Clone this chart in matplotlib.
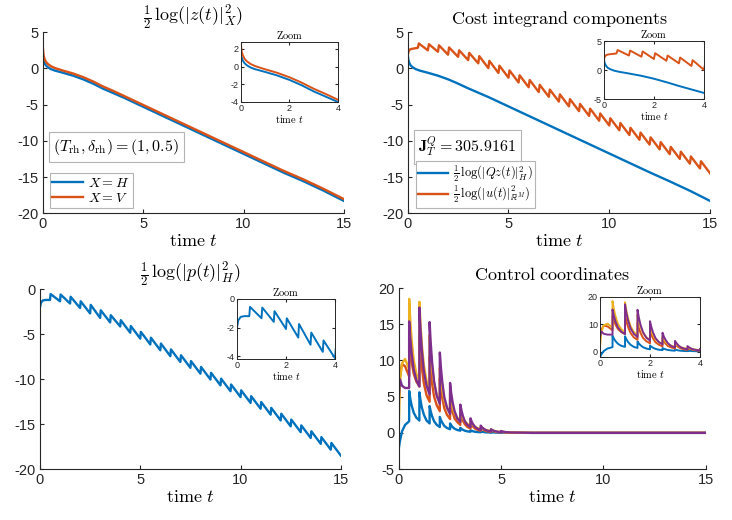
import numpy as np
import matplotlib
matplotlib.use("Agg")
import matplotlib.pyplot as plt

plt.rcParams["font.family"] = ["Liberation Sans", "DejaVu Sans"]
plt.rcParams["mathtext.fontset"] = "cm"
plt.rcParams["axes.unicode_minus"] = False

BLUE = "#0072BD"
ORANGE = "#D95319"
YELLOW = "#EDB120"
PURPLE = "#7E2F8E"

# smooth state norms, read at these times
z_t = [0, 0.03, 0.08, 0.15, 0.25, 0.4, 0.6, 1, 1.5, 2, 2.5, 3, 3.5, 4,
       5, 6, 7, 8, 9, 10, 11, 12, 13, 14, 15]
z_H = [1.8, 1.1, 0.7, 0.4, 0.15, -0.1, -0.3, -0.6, -1.0, -1.5, -2.1, -2.8, -3.4, -4.0,
       -5.3, -6.6, -7.9, -9.2, -10.5, -11.8, -13.1, -14.4, -15.6, -16.9, -18.3]
z_V = [2.7, 1.8, 1.3, 0.9, 0.6, 0.3, 0.05, -0.3, -0.7, -1.2, -1.8, -2.5, -3.1, -3.75,
       -5.05, -6.35, -7.65, -8.95, -10.25, -11.55, -12.85, -14.15, -15.35, -16.65, -18.05]
Qz = [1.9, 1.2, 0.75, 0.4, 0.15, -0.1, -0.3, -0.6, -1.0, -1.5, -2.1, -2.75, -3.35, -3.95,
      -5.25, -6.55, -7.85, -9.15, -10.45, -11.75, -13.05, -14.35, -15.6, -16.9, -18.3]

# receding-horizon updates every 0.5
jump_t = np.arange(0.5, 15.01, 0.5)

# cost of control: start segment, then value before / after each update
u_t0 = [0, 0.05, 0.1, 0.2]
u_0 = [1.9, 2.4, 2.6, 2.7]
u_before = [2.85, 2.5, 2.3, 1.9, 1.6, 1.15, 0.7, 0.04, -0.62, -1.28, -1.94, -2.6, -3.26,
            -3.92, -4.58, -5.24, -5.9, -6.56, -7.22, -7.88, -8.54, -9.2, -9.86, -10.52,
            -11.18, -11.84, -12.5, -13.16, -13.82, -14.48]
u_after = [3.45, 3.35, 3.2, 2.9, 2.5, 2.15, 1.7, 1.04, 0.38, -0.28, -0.94, -1.6, -2.26,
           -2.92, -3.58, -4.24, -4.9, -5.56, -6.22, -6.88, -7.54, -8.2, -8.86, -9.52,
           -10.18, -10.84, -11.5, -12.16, -12.82]

# adjoint state
p_t0 = [0, 0.05, 0.15, 0.3]
p_0 = [-2.0, -1.5, -1.25, -1.2]
p_before = [-1.2, -1.35, -1.6, -2.1, -2.7, -3.2, -3.7, -4.15, -4.85, -5.5, -6.15, -6.8,
            -7.45, -8.1, -8.75, -9.4, -10.05, -10.7, -11.35, -12.0, -12.65, -13.3,
            -13.95, -14.6, -15.25, -15.9, -16.55, -17.2, -17.85, -18.5]
p_after = [-0.55, -0.6, -0.85, -1.35, -1.75, -2.35, -2.9, -3.45, -4.1, -4.75, -5.4,
           -6.05, -6.7, -7.35, -8.0, -8.65, -9.3, -9.95, -10.6, -11.25, -11.9, -12.55,
           -13.2, -13.85, -14.5, -15.15, -15.8, -16.45, -17.1]

# control coordinates: start segment, then per update: value before, after,
# and the decay read at c_offsets after the update
c_t0 = [0, 0.05, 0.15, 0.3]
c_jumps = [0.5, 1.0, 1.5, 2.0, 2.5, 3.0, 3.5, 4.0, 4.5, 5.0]
c_offsets = [0.05, 0.12, 0.22, 0.35]
c_tail_t = [5.5, 6.5, 15]
ctrl = {
    "blue": dict(
        init=[-2.0, -1.1, 0.2, 1.1],
        before=[1.6, 1.7, 1.3, 0.8, 0.5, 0.3, 0.15, 0.08, 0.04, 0.02, 0.01],
        after=[5.8, 5.6, 3.7, 2.2, 1.3, 0.7, 0.35, 0.2, 0.1, 0.05],
        decay=[[4.8, 3.8, 2.8, 2.1], [4.6, 3.5, 2.5, 1.7], [3.0, 2.3, 1.6, 1.1],
               [1.8, 1.4, 0.96, 0.67], [1.06, 0.81, 0.57, 0.4], [0.57, 0.43, 0.3, 0.2],
               [0.29, 0.22, 0.15, 0.11], [0.16, 0.12, 0.08, 0.06], [0.08, 0.06, 0.04, 0.03],
               [0.04, 0.03, 0.02, 0.014]]),
    "orange": dict(
        init=[4.5, 8.0, 9.5, 9.2],
        before=[7.8, 6.4, 4.3, 3.0, 1.9, 1.1, 0.6, 0.3, 0.15, 0.08, 0.03],
        after=[13.0, 13.5, 10.5, 7.5, 4.6, 2.7, 1.4, 0.7, 0.35, 0.15],
        decay=[[11.4, 9.8, 8.2, 7.1], [11.3, 9.0, 6.8, 5.2], [8.7, 6.8, 5.0, 3.8],
               [6.2, 4.8, 3.4, 2.5], [3.8, 2.9, 2.0, 1.5], [2.2, 1.7, 1.2, 0.81],
               [1.1, 0.86, 0.6, 0.41], [0.57, 0.43, 0.3, 0.2], [0.29, 0.22, 0.15, 0.11],
               [0.12, 0.09, 0.06, 0.04]]),
    "yellow": dict(
        init=[1.6, 7.0, 9.6, 10.2],
        before=[8.8, 7.0, 6.0, 4.3, 2.8, 1.7, 1.0, 0.5, 0.25, 0.12, 0.05],
        after=[18.5, 18.1, 13.5, 9.0, 5.5, 3.2, 1.7, 0.9, 0.45, 0.2],
        decay=[[15.7, 12.9, 10.1, 8.2], [15.2, 12.2, 9.3, 7.2], [11.3, 9.0, 6.8, 5.2],
               [7.5, 6.0, 4.5, 3.4], [4.6, 3.6, 2.7, 2.1], [2.7, 2.1, 1.6, 1.2],
               [1.4, 1.1, 0.82, 0.62], [0.74, 0.58, 0.43, 0.32], [0.37, 0.29, 0.21, 0.15],
               [0.16, 0.13, 0.09, 0.07]]),
    "purple": dict(
        init=[5.3, 7.4, 6.5, 6.2],
        before=[6.2, 6.4, 5.3, 4.0, 2.6, 1.5, 0.8, 0.4, 0.2, 0.1, 0.05],
        after=[15.4, 17.3, 15.3, 11.1, 6.9, 3.9, 2.0, 1.0, 0.5, 0.25],
        decay=[[13.2, 11.0, 8.8, 7.3], [14.4, 11.4, 8.5, 6.5], [12.6, 9.8, 7.1, 5.1],
               [9.1, 7.0, 4.9, 3.5], [5.6, 4.3, 3.0, 2.0], [3.2, 2.4, 1.6, 1.1],
               [1.6, 1.2, 0.83, 0.56], [0.81, 0.61, 0.42, 0.28], [0.4, 0.3, 0.21, 0.14],
               [0.2, 0.15, 0.1, 0.07]]),
}
ctrl_colors = {"blue": BLUE, "orange": ORANGE, "yellow": YELLOW, "purple": PURPLE}


def sawtooth(t0, y0, before, after, rise=0.03):
    ts, ys = list(t0), list(y0)
    for k, tj in enumerate(jump_t):
        ts.append(tj)
        ys.append(before[k])
        if k < len(after):
            ts.append(tj + rise)
            ys.append(after[k])
    return ts, ys


def control_curve(d):
    ts, ys = list(c_t0), list(d["init"])
    for k, tj in enumerate(c_jumps):
        ts += [tj, tj] + [tj + o for o in c_offsets]
        ys += [d["before"][k], d["after"][k]] + d["decay"][k]
    ts += c_tail_t
    ys += [d["before"][-1], 0.0, 0.0]
    return ts, ys


def style_main(ax, ylim, yticks, title):
    ax.set_xlim(0, 15)
    ax.set_ylim(*ylim)
    ax.set_xticks([0, 5, 10, 15])
    ax.set_yticks(yticks)
    for s in ("top", "right"):
        ax.spines[s].set_visible(False)
    for s in ("left", "bottom"):
        ax.spines[s].set_color("#262626")
        ax.spines[s].set_linewidth(0.8)
    ax.tick_params(direction="in", length=3, labelsize=10.5, colors="#262626", pad=3)
    ax.set_title(title, fontsize=13, pad=6)
    ax.set_xlabel(r"$\mathrm{time}\ t$", fontsize=13, labelpad=1)


def style_inset(ax, ylim, yticks):
    ax.set_xlim(0, 4)
    ax.set_ylim(*ylim)
    ax.set_xticks([0, 2, 4])
    ax.set_yticks(yticks)
    ax.tick_params(direction="in", length=2, labelsize=6.5, pad=1.5,
                   top=True, right=True, colors="#262626")
    for s in ax.spines.values():
        s.set_linewidth(0.7)
        s.set_color("#262626")
    ax.set_title(r"$\mathrm{Zoom}$", fontsize=7.5, pad=2)
    ax.set_xlabel(r"$\mathrm{time}\ t$", fontsize=7.5, labelpad=0)


box = dict(boxstyle="square,pad=0.3", fc="white", ec="#b4b4b4", lw=0.8)
lw = 1.7

fig = plt.figure(figsize=(7.32, 5.2), dpi=100)

# top left
ax1 = fig.add_axes([0.0587, 0.590, 0.411, 0.348])
ax1.plot(z_t, z_H, color=BLUE, lw=lw, label=r"$X = H$")
ax1.plot(z_t, z_V, color=ORANGE, lw=lw, label=r"$X = V$")
style_main(ax1, (-20, 5), [-20, -15, -10, -5, 0, 5], r"$\frac{1}{2}\,\log(|z(t)|_X^2)$")
ax1.text(0.035, 0.367, r"$(T_{\rm rh},\delta_{\rm rh}) = (1,0.5)$", transform=ax1.transAxes,
         fontsize=11.5, va="center", bbox=box)
leg = ax1.legend(loc="lower left", bbox_to_anchor=(0.022, 0.03), borderaxespad=0,
                 fontsize=10, handlelength=2.2, fancybox=False, framealpha=1,
                 edgecolor="#b4b4b4", borderpad=0.2, labelspacing=0.1, handletextpad=0.4)
leg.get_frame().set_linewidth(0.8)

in1 = fig.add_axes([0.329, 0.804, 0.1325, 0.1154])
in1.plot(z_t, z_H, color=BLUE, lw=1.4)
in1.plot(z_t, z_V, color=ORANGE, lw=1.4)
style_inset(in1, (-4, 2.8), [-4, -2, 0, 2])

# top right
ax2 = fig.add_axes([0.557, 0.590, 0.413, 0.348])
ut, uy = sawtooth(u_t0, u_0, u_before, u_after, rise=0.05)
ax2.plot(z_t, Qz, color=BLUE, lw=lw, label=r"$\frac{1}{2}\,\log(|Qz(t)|_H^2)$")
ax2.plot(ut, uy, color=ORANGE, lw=lw, label=r"$\frac{1}{2}\,\log(|u(t)|_{\mathbb{R}^M}^2)$")
style_main(ax2, (-20, 5), [-20, -15, -10, -5, 0, 5], r"$\mathrm{Cost\ integrand\ components}$")
ax2.text(0.035, 0.365, r"$\mathbf{J}_T^Q = 305.9161$", transform=ax2.transAxes,
         fontsize=11.5, va="center", bbox=box)
leg = ax2.legend(loc="lower left", bbox_to_anchor=(0.026, 0.03), borderaxespad=0,
                 fontsize=9, handlelength=2.4, fancybox=False, framealpha=1,
                 edgecolor="#b4b4b4", borderpad=0.2, labelspacing=0.05, handletextpad=0.4)
leg.get_frame().set_linewidth(0.8)

in2 = fig.add_axes([0.825, 0.8096, 0.1366, 0.1115])
in2.plot(z_t, Qz, color=BLUE, lw=1.4)
in2.plot(ut, uy, color=ORANGE, lw=1.4)
style_inset(in2, (-5, 5), [-5, 0, 5])

# bottom left
ax3 = fig.add_axes([0.0546, 0.098, 0.411, 0.346])
pt, py = sawtooth(p_t0, p_0, p_before, p_after, rise=0.03)
ax3.plot(pt, py, color=BLUE, lw=lw)
style_main(ax3, (-20, 0), [-20, -15, -10, -5, 0], r"$\frac{1}{2}\,\log(|p(t)|_H^2)$")

in3 = fig.add_axes([0.3238, 0.3096, 0.1339, 0.1154])
in3.plot(pt, py, color=BLUE, lw=1.4)
style_inset(in3, (-4.2, 0), [-4, -2, 0])

# bottom right
ax4 = fig.add_axes([0.545, 0.098, 0.419, 0.348])
in4 = fig.add_axes([0.8197, 0.3135, 0.1366, 0.1154])
for name, d in ctrl.items():
    ct, cy = control_curve(d)
    ax4.plot(ct, cy, color=ctrl_colors[name], lw=lw)
    in4.plot(ct, cy, color=ctrl_colors[name], lw=1.4)
style_main(ax4, (-5, 20), [-5, 0, 5, 10, 15, 20], r"$\mathrm{Control\ coordinates}$")
style_inset(in4, (-2, 20), [0, 10, 20])

fig.savefig("out.png", dpi=100)
